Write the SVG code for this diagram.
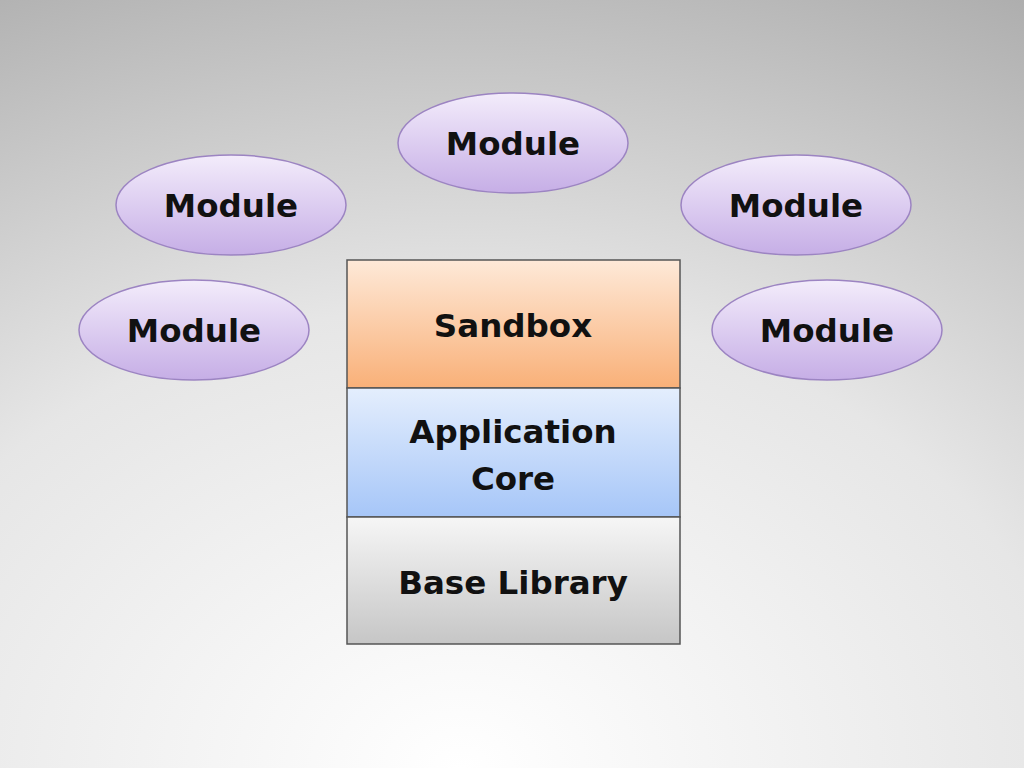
<svg xmlns="http://www.w3.org/2000/svg" width="1024" height="768" viewBox="0 0 1024 768">
<defs>
<radialGradient id="bg" cx="0.45" cy="1.0" r="1.2">
<stop offset="0" stop-color="#ffffff"/><stop offset="0.5" stop-color="#e6e6e6"/><stop offset="1" stop-color="#a8a8a8"/>
</radialGradient>
<linearGradient id="mod" x1="0" y1="0" x2="0" y2="1"><stop offset="0" stop-color="#f3ecfb"/><stop offset="1" stop-color="#c6aee6"/></linearGradient>
<linearGradient id="sb" x1="0" y1="0" x2="0" y2="1"><stop offset="0" stop-color="#fee9d8"/><stop offset="1" stop-color="#f9b078"/></linearGradient>
<linearGradient id="ac" x1="0" y1="0" x2="0" y2="1"><stop offset="0" stop-color="#e4eefd"/><stop offset="1" stop-color="#a6c6f8"/></linearGradient>
<linearGradient id="bl" x1="0" y1="0" x2="0" y2="1"><stop offset="0" stop-color="#f6f6f6"/><stop offset="1" stop-color="#c6c6c6"/></linearGradient>
</defs>
<style>
.m{fill:url(#mod);stroke:#9c84c2;stroke-width:1.5}
.r{stroke:#555;stroke-width:1.5}
text{font-family:"DejaVu Sans",Verdana,sans-serif;font-weight:bold;font-size:32.5px;fill:#111;text-anchor:middle}
</style>
<rect width="1024" height="768" fill="url(#bg)"/>
<g id="module-top"><ellipse class="m" cx="513" cy="143" rx="115" ry="50"/><text x="513" y="155">Module</text></g>
<g id="module-ul"><ellipse class="m" cx="231" cy="205" rx="115" ry="50"/><text x="231" y="217">Module</text></g>
<g id="module-ur"><ellipse class="m" cx="796" cy="205" rx="115" ry="50"/><text x="796" y="217">Module</text></g>
<g id="module-ll"><ellipse class="m" cx="194" cy="330" rx="115" ry="50"/><text x="194" y="342">Module</text></g>
<g id="module-lr"><ellipse class="m" cx="827" cy="330" rx="115" ry="50"/><text x="827" y="342">Module</text></g>
<g id="sandbox"><rect class="r" x="347" y="260" width="333" height="128" fill="url(#sb)" stroke="#c89060"/><text x="513" y="337">Sandbox</text></g>
<g id="core"><rect class="r" x="347" y="388" width="333" height="129" fill="url(#ac)"/><text x="513" y="443">Application</text><text x="513" y="490">Core</text></g>
<g id="base"><rect class="r" x="347" y="517" width="333" height="127" fill="url(#bl)"/><text x="513" y="594">Base Library</text></g>
<g id="connectors"/>
</svg>
